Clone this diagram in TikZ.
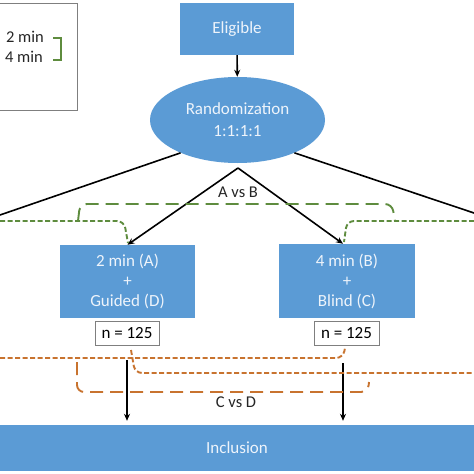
\documentclass[tikz,border=0pt]{standalone}
\usepackage{fontspec}
\setmainfont{Carlito}
\usetikzlibrary{arrows.meta,shapes.geometric,calc}
\definecolor{boxblue}{HTML}{5B9BD5}
\definecolor{dgreen}{HTML}{5E8C3E}
\definecolor{dorange}{HTML}{C8732F}
\definecolor{boxtxt}{HTML}{EEF4FB}
\definecolor{legendline}{HTML}{7F7F7F}
\begin{document}
\begin{tikzpicture}[x=1pt,y=-1pt,
  bluebox/.style={fill=boxblue, draw=none, text=boxtxt, inner sep=0pt, align=center,
    font=\fontsize{17}{20}\selectfont},
  nbox/.style={draw=legendline, line width=0.8pt, fill=white, inner sep=0pt,
    font=\fontsize{17}{20}\selectfont},
  lbl/.style={inner sep=0pt, text=black!85, font=\fontsize{16.5}{20}\selectfont},
  conn/.style={line width=1.6pt, black},
  arr/.style={conn, -{Stealth[length=7pt,width=6pt]}},
  gshort/.style={dgreen, line width=1.9pt, dash pattern=on 5pt off 2.5pt, rounded corners=7pt},
  glong/.style={dgreen, line width=1.9pt, dash pattern=on 13pt off 7pt, rounded corners=7pt},
  oshort/.style={dorange, line width=1.9pt, dash pattern=on 5pt off 2.5pt, rounded corners=7pt},
  olong/.style={dorange, line width=1.9pt, dash pattern=on 13pt off 7pt, rounded corners=7pt}]
\useasboundingbox (0,0) rectangle (474,474);
\fill[white] (0,0) rectangle (474,474);

% legend
\node[draw=legendline, line width=1pt, minimum width=87pt, minimum height=107pt, inner sep=0pt] (legend) at (33.5,56.5) {};
\node[lbl] (l2) at (25,37) {2 min};
\node[lbl] (l4) at (24,57) {4 min};
\draw[dgreen, line width=1.6pt] (53,38) -- (61,38) -- (61,60) -- (53,60);

% main nodes
\node[bluebox, minimum width=114pt, minimum height=52pt] (elig) at (237,29) {Eligible};
\node[bluebox, ellipse, minimum width=175pt, minimum height=86pt, font=\fontsize{17}{22}\selectfont] (rand) at (237.5,120) {Randomization\\1:1:1:1};
\node[bluebox, minimum width=135pt, minimum height=73pt] (boxA) at (127.5,281.5) {2 min (A)\\+\\Guided (D)};
\node[bluebox, minimum width=136pt, minimum height=74pt] (boxB) at (347,281) {4 min (B)\\+\\Blind (C)};
\node[nbox, minimum width=64pt, minimum height=24pt] (nA) at (127,333) {n = 125};
\node[nbox, minimum width=65pt, minimum height=24pt] (nB) at (346.5,333) {n = 125};
\node[bluebox, minimum width=474pt, minimum height=46pt] (incl) at (237,448) {Inclusion};

\node[lbl] (avb) at (238,192) {A vs B};
\node[lbl] (cvd) at (236,402) {C vs D};

% coordinates
\coordinate (split) at (238,168);
\coordinate (L) at (0,215);
\coordinate (R) at (474,213);
\coordinate (dA) at (127,360);
\coordinate (dB) at (343,363);

% connectors
\draw[arr] (elig) -- (rand);
\draw[conn] (rand.210) -- (L);
\draw[conn] (rand.330) -- (R);
\draw[arr] (split) -- (boxA.north);
\draw[arr] (split) -- ($(boxB.north)+(-4,0)$);
\draw[arr, shorten >=4pt] (dA) -- (dA |- incl.north);
\draw[arr, shorten >=4pt] (dB) -- (dB |- incl.north);

% green brackets
\draw[glong] (78,221) -- (80,204) -- (392,204) -- (395,221);
\draw[gshort] (0,221) -- (124,221) -- (128,243);
\draw[gshort] (474,221) -- (347,221) -- (344,242);

% orange brackets
\draw[oshort] (0,358) -- (343,358) -- (345,348);
\draw[oshort] (131,350) -- (135,373) -- (474,373);
\draw[olong] (77,362) -- (77,392) -- (368,392) -- (369,382);
\end{tikzpicture}
\end{document}
